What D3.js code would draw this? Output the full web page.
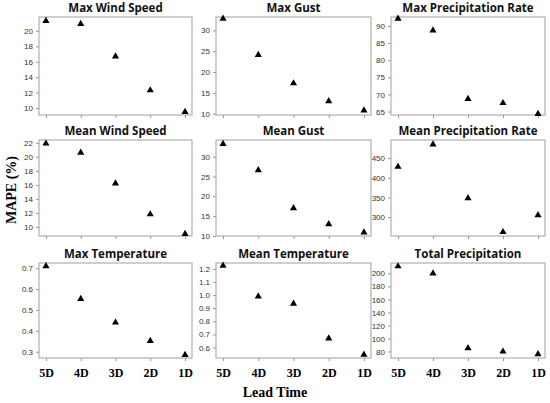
<!DOCTYPE html><html><head><meta charset="utf-8">
<script src="https://cdn.jsdelivr.net/npm/d3@7"></script>
<style>body{margin:0;background:#fff}</style></head><body><svg id="c" width="550" height="403"></svg>
<script>
const leadTimes=["5D","4D","3D","2D","1D"];
const titles=["Max Wind Speed","Max Gust","Max Precipitation Rate","Mean Wind Speed","Mean Gust","Mean Precipitation Rate","Max Temperature","Mean Temperature","Total Precipitation"];
const maxWind=[21.3,20.9,16.7,12.3,9.5];
const maxGust=[32.8,24.1,17.3,13.0,10.8];
const maxPrecipRate=[92.1,88.7,68.7,67.5,64.3];
const meanWind=[21.9,20.6,16.2,11.8,9.0];
const meanGust=[33.2,26.6,17.0,13.0,10.9];
const meanPrecipRate=[428,485,348,262,305];
const maxTemp=[0.71,0.553,0.44,0.352,0.285];
const meanTemp=[1.225,0.99,0.935,0.67,0.545];
const totalPrecip=[211,200,85,80,76];
const series=[maxWind,maxGust,maxPrecipRate,meanWind,meanGust,meanPrecipRate,maxTemp,meanTemp,totalPrecip];
const domains=[[9.1,21.8],[9.7,33.2],[64,92.6],[8.7,22.4],[10,34.2],[252,496],[0.27,0.725],[0.52,1.245],[70,216]];
const tickVals=[[10,12,14,16,18,20],[10,15,20,25,30],[65,70,75,80,85,90],[10,12,14,16,18,20,22],[10,15,20,25,30],[300,350,400,450],[0.3,0.4,0.5,0.6,0.7],[0.6,0.7,0.8,0.9,1.0,1.1,1.2],[80,100,120,140,160,180,200]];
const tickFmt=[null,null,null,null,null,null,".1f",".1f",null];
const colX=[[39,192],[216,371],[391,545]];
const rowY=[[17,115],[140,236],[263,358]];
const svg=d3.select("#c");
series.forEach((vals,i)=>{
  const c=i%3,r=Math.floor(i/3);
  const [x0,x1]=colX[c],[y0,y1]=rowY[r];
  const x=d3.scalePoint().domain(leadTimes).range([x0,x1]).padding(0.2);
  const y=d3.scaleLinear().domain(domains[i]).range([y1,y0]);
  svg.append("rect").attr("x",x0).attr("y",y0).attr("width",x1-x0).attr("height",y1-y0).attr("fill","none").attr("stroke","#b0b0b0").attr("stroke-width",1.2);
  svg.append("text").attr("x",(x0+x1)/2).attr("y",y0-5).attr("text-anchor","middle").attr("font-family","Open Sans, sans-serif").attr("font-weight","bold").attr("font-size",11.5).attr("fill","#111").text(titles[i]);
  const ya=svg.append("g").attr("transform",`translate(${x0},0)`).call(d3.axisLeft(y).tickValues(tickVals[i]).tickSize(3).tickFormat(tickFmt[i]?d3.format(tickFmt[i]):d3.format("d")));
  ya.select(".domain").remove();
  ya.selectAll("line").attr("stroke","#999");
  ya.selectAll("text").attr("font-family","Liberation Sans, Arial").attr("font-size",8).attr("fill","#333");
  const xa=svg.append("g").attr("transform",`translate(0,${y1})`).call(d3.axisBottom(x).tickSize(3).tickFormat(r===2?null:""));
  xa.select(".domain").remove();
  xa.selectAll("line").attr("stroke","#999");
  xa.selectAll("text").attr("font-family","Liberation Serif, serif").attr("font-weight","bold").attr("font-size",12).attr("fill","#000").attr("dy","1.1em");
  svg.append("g").selectAll("path").data(vals).join("path")
    .attr("d",d3.symbol(d3.symbolTriangle,22)).attr("fill","#000")
    .attr("transform",(d,j)=>`translate(${x(leadTimes[j])},${y(d)})`);
});
svg.append("text").attr("x",275).attr("y",397).attr("text-anchor","middle").attr("font-family","Liberation Serif, serif").attr("font-weight","bold").attr("font-size",14).text("Lead Time");
svg.append("text").attr("transform","translate(16,190) rotate(-90)").attr("text-anchor","middle").attr("font-family","Liberation Serif, serif").attr("font-weight","bold").attr("font-size",14).text("MAPE (%)");
</script></body></html>
